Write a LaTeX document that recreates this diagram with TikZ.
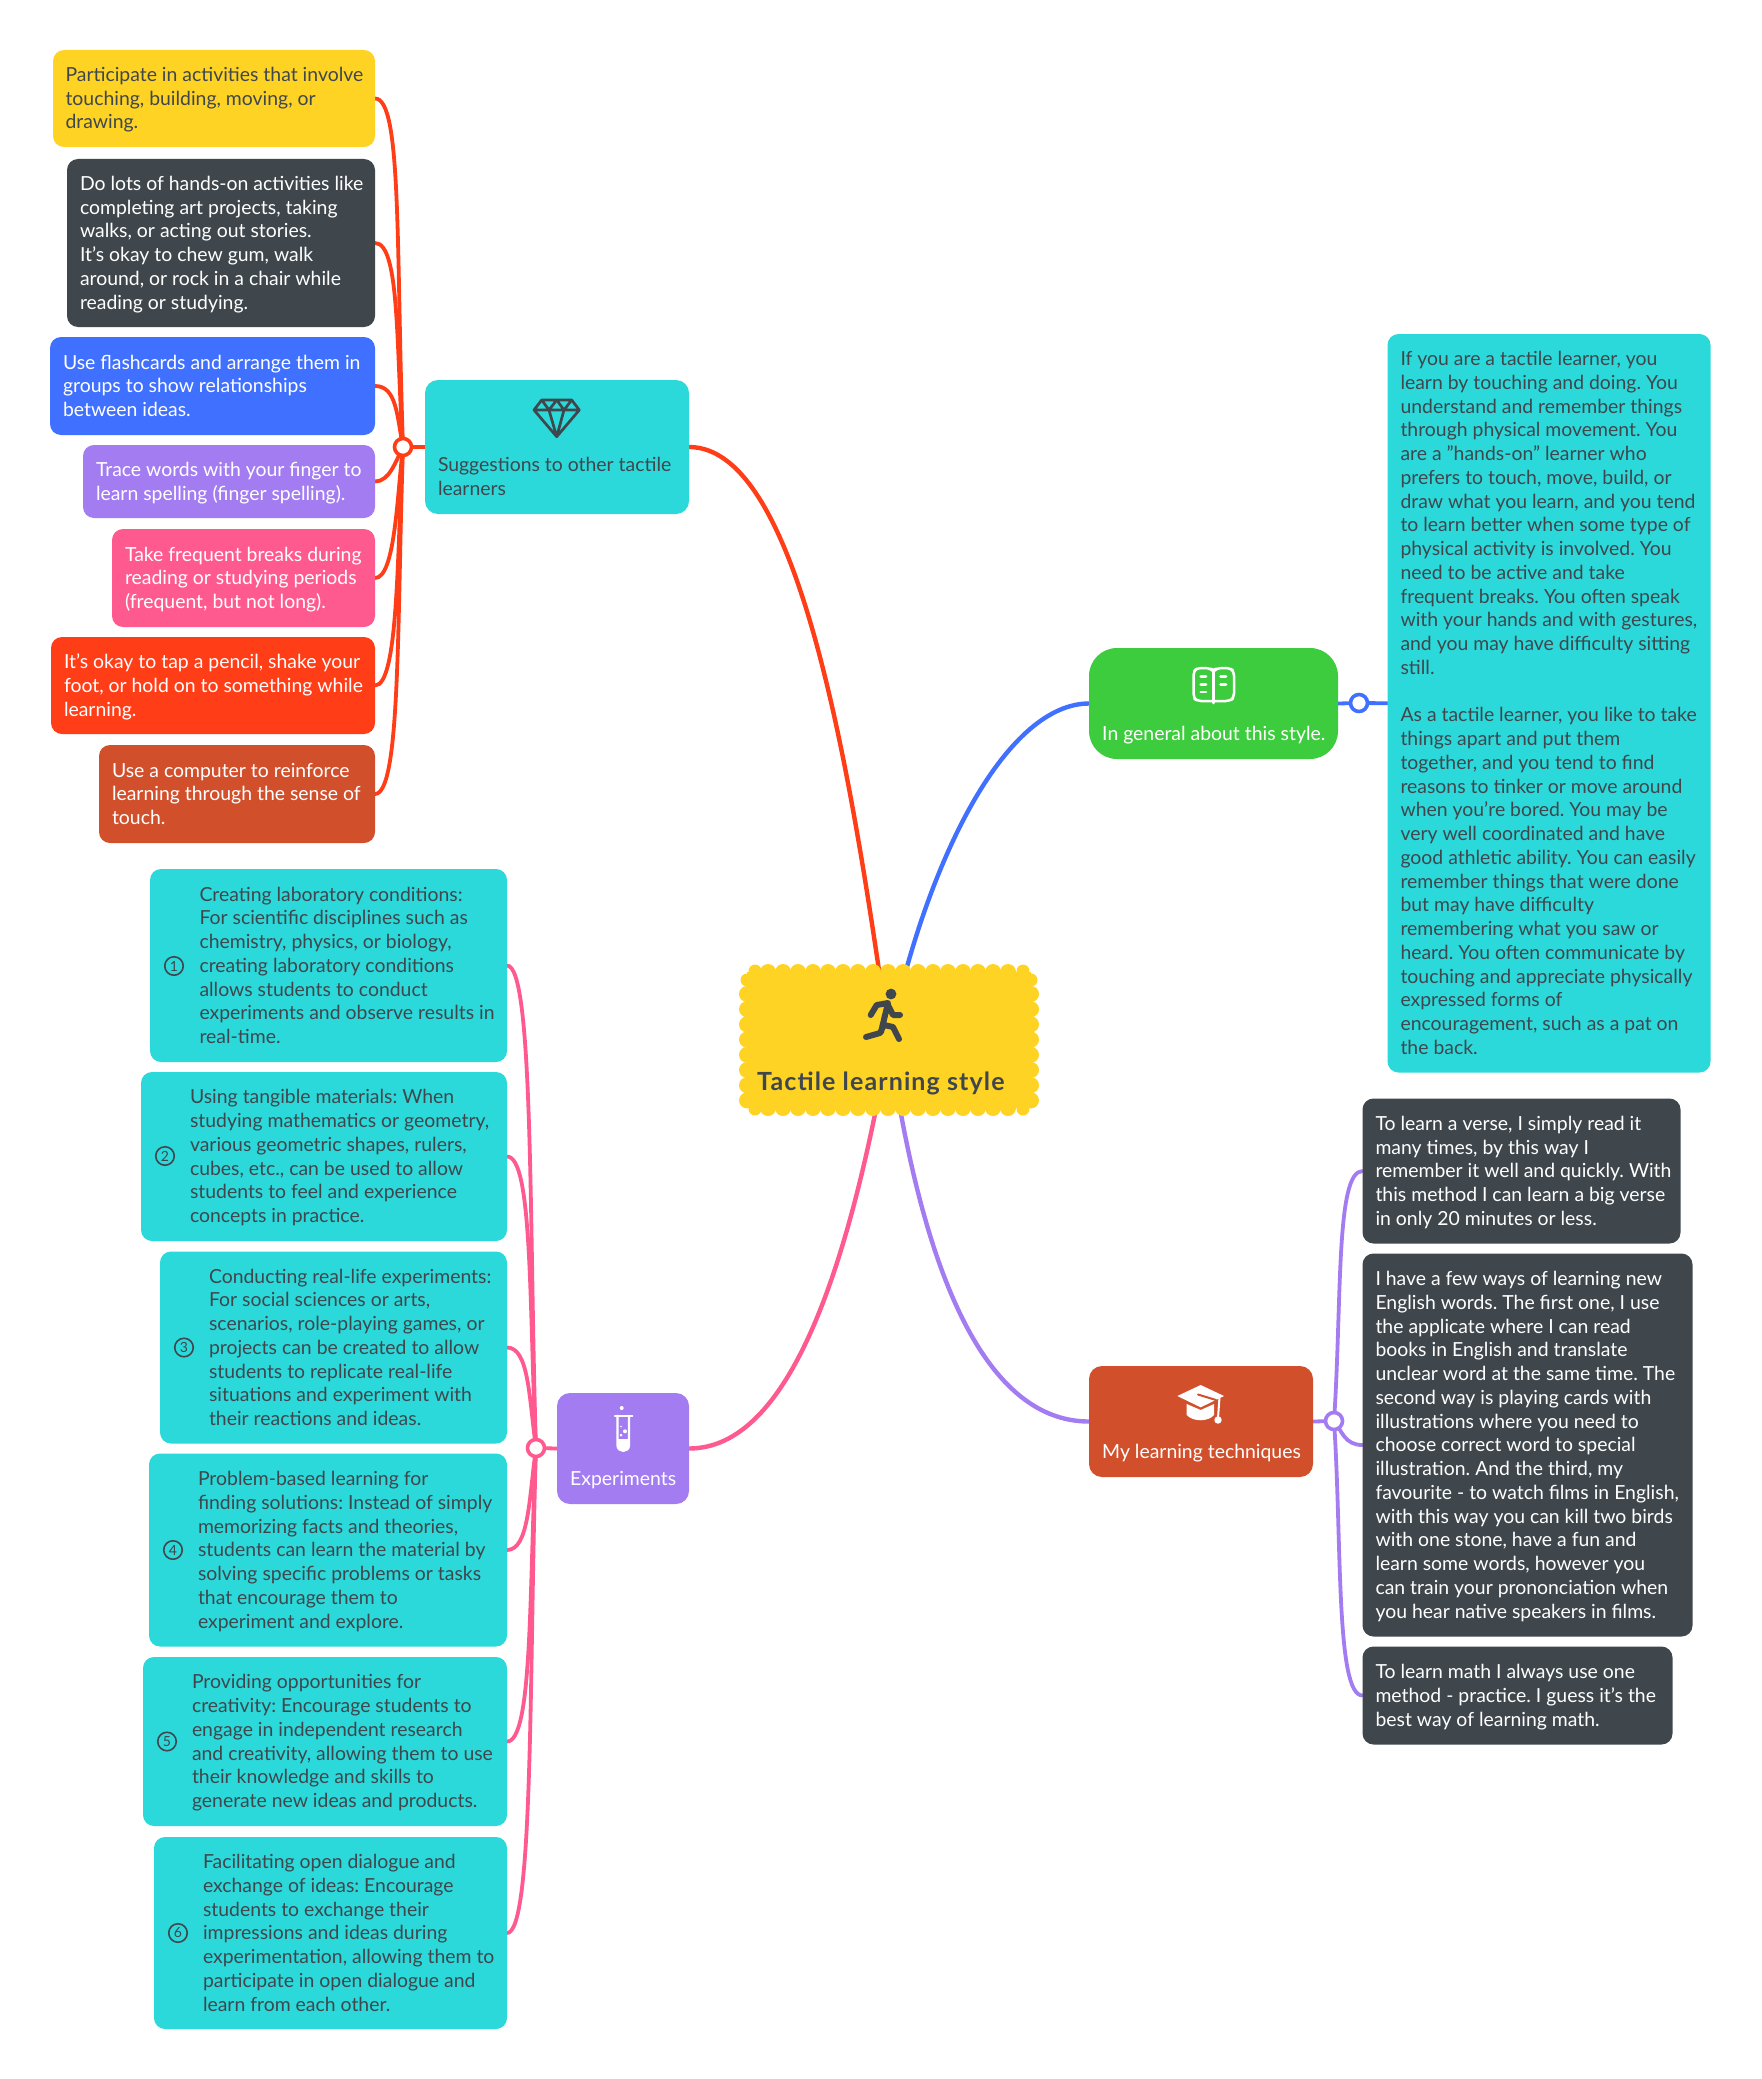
\documentclass[tikz,border=0pt]{standalone}
\usepackage{fontspec}
\setmainfont{Lato}
\pgfdeclarelayer{bg}
\pgfsetlayers{bg,main}
\definecolor{teal1}{HTML}{2BD9DA}
\definecolor{dark1}{HTML}{3F474D}
\definecolor{yellow1}{HTML}{FFD324}
\definecolor{blue1}{HTML}{4070FF}
\definecolor{purple1}{HTML}{A37CF2}
\definecolor{pink1}{HTML}{FF5A8F}
\definecolor{red1}{HTML}{FF3D17}
\definecolor{brown1}{HTML}{D24F2C}
\definecolor{green1}{HTML}{3DCC3D}
\newcommand{\fsz}{\fontsize{19.4}{23.75}\selectfont\frenchspacing}
\def\boxr{11pt}
\tikzset{
  boxshape/.style={rectangle,inner sep=0pt,outer sep=0pt,rounded corners=\boxr},
  txt/.style={inner sep=0pt,outer sep=0pt,anchor=west,align=left,font=\fsz},
  link/.style={line width=3.8pt,line cap=round},
  mainlink/.style={line width=4.4pt,line cap=round},
  hubring/.style={circle,draw,line width=3.6pt,fill=white,minimum size=17pt,inner sep=0pt},
  nummark/.style={circle,draw=dark1,line width=1.6pt,minimum size=18.5pt,inner sep=0pt,text=dark1,font=\fontsize{14}{14}\selectfont},
  icon/.style={line width=2.7pt,line cap=round,line join=round},
}
% name, x1,y1,x2,y2, fill, text colour, left pad, text
\newcommand{\tbox}[9]{%
  \pgfmathsetmacro{\mx}{(#2+#4)/2}\pgfmathsetmacro{\my}{(#3+#5)/2}%
  \pgfmathsetmacro{\mty}{\my+2}%
  \pgfmathsetmacro{\bw}{#4-#2}\pgfmathsetmacro{\bh}{#5-#3}%
  \pgfmathsetmacro{\tx}{#2+#8}%
  \node[boxshape,fill=#6,minimum width=\bw pt,minimum height=\bh pt] (#1) at (\mx,\my) {};
  \node[txt,text=#7] (#1t) at (\tx,\mty) {\strut#9\strut};
}
\newcommand{\nummark}[4]{% name, x, y, number
  \node[nummark] (#1) at (#2,#3) {#4};
}
\begin{document}
\begin{tikzpicture}[x=1pt,y=-1pt]
\useasboundingbox (0,0) rectangle (1761,2079);
\begin{pgfonlayer}{bg}
\fill[white] (0,0) rectangle (1761,2079);
\end{pgfonlayer}

% ---- centre node
\foreach \i in {0,...,16}{
  \fill[yellow1] ({768+15*\i},972) circle (8);
  \fill[yellow1] ({768+15*\i},1108) circle (8);
}
\foreach \i in {0,...,7}{
  \fill[yellow1] (747,{994+15.2*\i}) circle (8);
  \fill[yellow1] (1031,{994+15.2*\i}) circle (8);
}
\foreach \px/\py in {755/971,1023/971,755/1109,1023/1109,747/980,1031/980,747/1100,1031/1100}{
  \fill[yellow1] (\px,\py) circle (6.5);
}
\node[rectangle,fill=yellow1,minimum width=284pt,minimum height=136pt,inner sep=0pt] (c) at (889,1040) {};
\node[inner sep=0pt,anchor=base west,text=dark1,font=\fontsize{25}{28}\selectfont\bfseries\addfontfeature{LetterSpace=4.5}] (ct) at (757,1090) {Tactile learning style};
% runner icon
\fill[dark1] (891,994) circle (5.4);
\draw[dark1,line width=6pt,line cap=round,line join=round]
  (870.7,1015) -- (876.7,1005) -- (888,1003) -- (881,1032)
  (888,1005) -- (893,1015) -- (900,1015)
  (866,1037) -- (880,1033) -- (884,1025) -- (893,1027) -- (899,1039);

% ---- first-level nodes
\def\boxr{13pt}
\tbox{sug}{425}{380}{689}{514}{teal1}{dark1}{13}{\phantom{x}}
\node[txt,text=dark1] (sugt2) at (438,479) {\strut Suggestions to other tactile\\learners\strut};
\tbox{exp}{557}{1393}{689}{1504}{purple1}{white}{13}{\phantom{x}}
\node[inner sep=0pt,anchor=base west,text=white,font=\fsz] (expt2) at (570,1485) {Experiments};
\def\boxr{28pt}
\tbox{gen}{1089}{648}{1338}{759}{green1}{white}{13}{\phantom{x}}
\def\boxr{13pt}
\node[inner sep=0pt,anchor=base west,text=white,font=\fsz] (gent2) at (1102,740) {In general about this style.};
\tbox{tec}{1089}{1366}{1313}{1477}{brown1}{white}{13}{\phantom{x}}
\node[inner sep=0pt,anchor=base west,text=white,font=\fsz] (tect2) at (1102,1458.5) {My learning techniques};
\def\boxr{11pt}

% icons
\draw[dark1,icon] (541.7,400) -- (571.7,400) -- (579.3,410) -- (556.7,436.7) -- (534,410) -- cycle
  (534,410) -- (579.3,410)
  (541.7,400) -- (549,410) -- (556.7,400) -- (564,410) -- (571.7,400)
  (549,410) -- (556.7,436.7) -- (564,410);
\draw[white,icon,line width=2.5pt,rounded corners=4pt] (1213.5,701) -- (1197,701) -- (1193.5,697.5) -- (1193.5,671.5) -- (1197,668) -- (1210,668) -- (1213.5,671.5) -- (1217,668) -- (1230,668) -- (1234,671.5) -- (1234,697.5) -- (1230,701) -- cycle;
\draw[white,icon,line width=2.5pt] (1213.5,671) -- (1213.5,703)
  (1200.7,676.7) -- (1206,676.7) (1200.7,684.3) -- (1206,684.3) (1200.7,692) -- (1206,692)
  (1220.5,676.7) -- (1226,676.7) (1220.5,684.3) -- (1226,684.3);
\draw[white,icon,line width=2.4pt] (615,1415.7) -- (632.3,1415.7);
\draw[white,icon,line width=2.4pt] (617.5,1415.7) -- (617.5,1445) .. controls (617.5,1452.7) and (629,1452.7) .. (629,1445) -- (629,1415.7);
\fill[white] (617.5,1439) -- (629,1439) -- (629,1445) .. controls (629,1452.7) and (617.5,1452.7) .. (617.5,1445) -- cycle;
\fill[white] (621.7,1408) circle (2) (625,1431.3) circle (2) (621,1435) circle (1.5) (621,1426.5) circle (0.8);
\fill[white] (1177.3,1396) -- (1200.7,1385) -- (1224,1396) -- (1200.7,1407.3) -- cycle;
\fill[white] (1186.7,1404) -- (1200.7,1410) -- (1214,1404) -- (1214,1415) .. controls (1208,1422) and (1193,1422) .. (1186.7,1415) -- cycle;
\draw[brown1,line width=2pt,line cap=round] (1198,1394.5) -- (1216,1400);
\draw[white,line width=2pt] (1219.5,1397) -- (1218,1418);
\fill[white] (1218,1420) circle (3.7);

% ---- suggestions
\tbox{s1}{53}{50}{375}{147}{yellow1}{dark1}{12.5}{Participate in activities that involve\\touching, building, moving, or\\drawing.}
\tbox{s2}{67}{159}{375}{327}{dark1}{white}{13}{Do lots of hands-on activities like\\completing art projects, taking\\walks, or acting out stories.\\It's okay to chew gum, walk\\around, or rock in a chair while\\reading or studying.}
\tbox{s3}{50}{337}{375}{435}{blue1}{white}{13}{Use flashcards and arrange them in\\groups to show relationships\\between ideas.}
\tbox{s4}{83}{445}{375}{518}{purple1}{white}{13}{Trace words with your finger to\\learn spelling (finger spelling).}
\tbox{s5}{112}{529}{375}{627}{pink1}{white}{13}{Take frequent breaks during\\reading or studying periods\\(frequent, but not long).}
\tbox{s6}{51}{637}{375}{734}{red1}{white}{13}{It's okay to tap a pencil, shake your\\foot, or hold on to something while\\learning.}
\tbox{s7}{99}{745}{375}{843}{brown1}{white}{13}{Use a computer to reinforce\\learning through the sense of\\touch.}

% ---- experiments
\tbox{e1}{150}{869}{507}{1062}{teal1}{dark1}{49.5}{Creating laboratory conditions:\\For scientific disciplines such as\\chemistry, physics, or biology,\\creating laboratory conditions\\allows students to conduct\\experiments and observe results in\\real-time.}
\tbox{e2}{141}{1072}{507}{1241}{teal1}{dark1}{49}{Using tangible materials: When\\studying mathematics or geometry,\\various geometric shapes, rulers,\\cubes, etc., can be used to allow\\students to feel and experience\\concepts in practice.}
\tbox{e3}{160}{1251.5}{507}{1443.5}{teal1}{dark1}{49}{Conducting real-life experiments:\\For social sciences or arts,\\scenarios, role-playing games, or\\projects can be created to allow\\students to replicate real-life\\situations and experiment with\\their reactions and ideas.}
\tbox{e4}{149}{1453.5}{507}{1646.5}{teal1}{dark1}{49}{Problem-based learning for\\finding solutions: Instead of simply\\memorizing facts and theories,\\students can learn the material by\\solving specific problems or tasks\\that encourage them to\\experiment and explore.}
\tbox{e5}{143}{1657}{507}{1826}{teal1}{dark1}{49}{Providing opportunities for\\creativity: Encourage students to\\engage in independent research\\and creativity, allowing them to use\\their knowledge and skills to\\generate new ideas and products.}
\tbox{e6}{154}{1837}{507}{2029}{teal1}{dark1}{49}{Facilitating open dialogue and\\exchange of ideas: Encourage\\students to exchange their\\impressions and ideas during\\experimentation, allowing them to\\participate in open dialogue and\\learn from each other.}
\nummark{m1}{174}{966}{1}
\nummark{m2}{165}{1156}{2}
\nummark{m3}{184}{1347.5}{3}
\nummark{m4}{173}{1550}{4}
\nummark{m5}{167}{1741.5}{5}
\nummark{m6}{178}{1933}{6}

% ---- right side
\tbox{big}{1387.5}{334}{1710.5}{1072.5}{teal1}{dark1}{13}{If you are a tactile learner, you\\learn by touching and doing. You\\understand and remember things\\through physical movement. You\\are a "hands-on" learner who\\prefers to touch, move, build, or\\draw what you learn, and you tend\\to learn better when some type of\\physical activity is involved. You\\need to be active and take\\frequent breaks. You often speak\\with your hands and with gestures,\\and you may have difficulty sitting\\still.\\[23.75pt]As a tactile learner, you like to take\\things apart and put them\\together, and you tend to find\\reasons to tinker or move around\\when you're bored. You may be\\very well coordinated and have\\good athletic ability. You can easily\\remember things that were done\\but may have difficulty\\remembering what you saw or\\heard. You often communicate by\\touching and appreciate physically\\expressed forms of\\encouragement, such as a pat on\\the back.}
\tbox{t1}{1362.5}{1098.5}{1680.5}{1243.5}{dark1}{white}{13}{To learn a verse, I simply read it\\many times, by this way I\\remember it well and quickly. With\\this method I can learn a big verse\\in only 20 minutes or less.}
\tbox{t2}{1362.5}{1253.5}{1692.5}{1636.5}{dark1}{white}{13}{I have a few ways of learning new\\English words. The first one, I use\\the applicate where I can read\\books in English and translate\\unclear word at the same time. The\\second way is playing cards with\\illustrations where you need to\\choose correct word to special\\illustration. And the third, my\\favourite - to watch films in English,\\with this way you can kill two birds\\with one stone, have a fun and\\learn some words, however you\\can train your prononciation when\\you hear native speakers in films.}
\tbox{t3}{1362.5}{1646.5}{1672.5}{1744.5}{dark1}{white}{13}{To learn math I always use one\\method - practice. I guess it's the\\best way of learning math.}

% ---- hubs
\node[hubring,draw=red1] (h1) at (403,447) {};
\node[hubring,draw=pink1] (h2) at (536,1448) {};
\node[hubring,draw=blue1] (h3) at (1359,703) {};
\node[hubring,draw=purple1] (h4) at (1334,1421) {};

% ---- connectors
\begin{pgfonlayer}{bg}
\draw[mainlink,red1] (c.center) .. controls +(-38,-270) and +(110,0) .. (sug.east);
\draw[mainlink,blue1] (c.center) .. controls +(40,-190) and +(-80,0) .. (gen.west);
\draw[mainlink,pink1] (c.center) .. controls +(-40,230) and +(100,0) .. (exp.east);
\draw[mainlink,purple1] (c.center) .. controls +(38,270) and +(-90,0) .. (tec.west);
\draw[link,red1] (sug.west) -- (h1.center);
\draw[link,pink1] (exp.west) -- (h2.center);
\draw[link,blue1] (gen.east) -- (h3.center) -- (big.west);
\draw[link,purple1] (tec.east) -- (h4.center);
\draw[link,red1] (s1.east) .. controls +(27,0) and +(-7,-200) .. (h1.center);
\draw[link,red1] (s2.east) .. controls +(25,0) and +(-7,-100) .. (h1.center);
\draw[link,red1] (s3.east) .. controls +(22,0) and +(-6,-30) .. (h1.center);
\draw[link,red1] (s4.east) .. controls +(14,0) and +(-8,16) .. (h1.center);
\draw[link,red1] (s5.east) .. controls +(20,0) and +(-6,50) .. (h1.center);
\draw[link,red1] (s6.east) .. controls +(24,0) and +(-6,100) .. (h1.center);
\draw[link,red1] (s7.east) .. controls +(26,0) and +(-6,170) .. (h1.center);
\draw[link,pink1] (e1.east) .. controls +(27,0) and +(-7,-220) .. (h2.center);
\draw[link,pink1] (e2.east) .. controls +(26,0) and +(-7,-140) .. (h2.center);
\draw[link,pink1] (e3.east) .. controls +(22,0) and +(-7,-50) .. (h2.center);
\draw[link,pink1] (e4.east) .. controls +(22,0) and +(-7,50) .. (h2.center);
\draw[link,pink1] (e5.east) .. controls +(26,0) and +(-7,140) .. (h2.center);
\draw[link,pink1] (e6.east) .. controls +(27,0) and +(-7,220) .. (h2.center);
\draw[link,purple1] (t1.west) .. controls +(-27,0) and +(8,-120) .. (h4.center);
\draw[link,purple1] (t2.west) .. controls +(-18,0) and +(8,10) .. (h4.center);
\draw[link,purple1] (t3.west) .. controls +(-27,0) and +(8,120) .. (h4.center);
\end{pgfonlayer}
\end{tikzpicture}
\end{document}
